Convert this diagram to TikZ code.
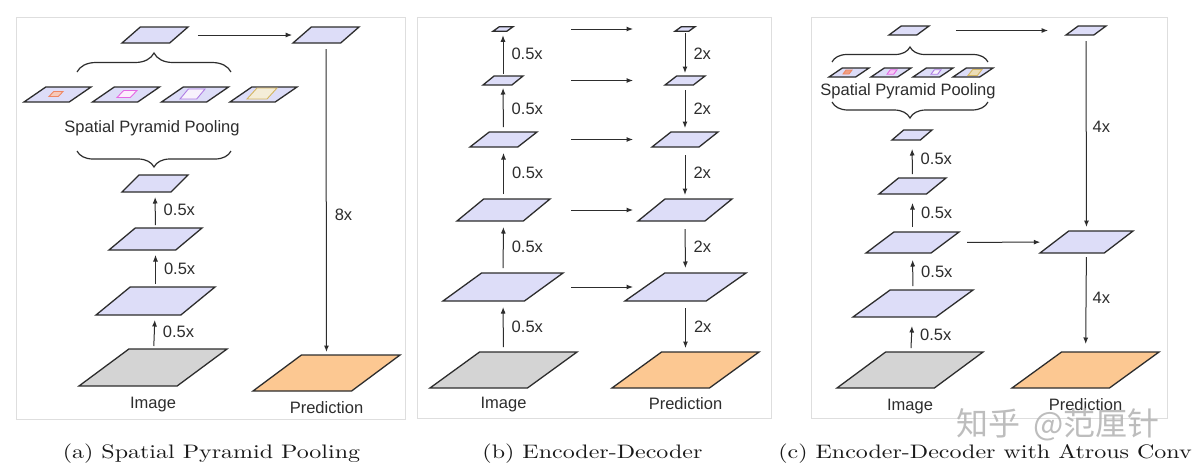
\documentclass[tikz,border=0pt]{standalone}
\usepackage{fontspec}
\setmainfont{Liberation Sans}
\newfontfamily\cjkfont{Noto Sans CJK SC}
\newfontfamily\capfont[FakeStretch=1.23]{lmroman10-regular.otf}
\usetikzlibrary{shapes.geometric,arrows.meta,positioning,decorations.pathreplacing}

\definecolor{planefill}{RGB}{221,221,248}
\definecolor{imgfill}{RGB}{212,212,212}
\definecolor{predfill}{RGB}{252,200,146}
\definecolor{linegray}{RGB}{45,45,45}
\definecolor{framegray}{RGB}{222,222,222}
\definecolor{binorange}{RGB}{238,135,100}
\definecolor{binmagenta}{RGB}{228,105,228}
\definecolor{binviolet}{RGB}{175,125,228}
\definecolor{bingold}{RGB}{212,182,98}

\tikzset{
  plane/.style n args={4}{trapezium, draw=linegray, line width=1.3pt, fill=planefill,
    inner sep=0.2pt, outer sep=0pt, trapezium stretches=true,
    minimum width=#1, minimum height=#2,
    trapezium left angle=#3, trapezium right angle=#4},
  bin/.style={line width=0.9pt}
}

\begin{document}
\begin{tikzpicture}[x=1pt, y=-1pt,
    font=\fontsize{16.5}{19}\selectfont,
    arr/.style={-{Latex[length=6.5pt,width=5pt]}, line width=1pt, draw=linegray,
      shorten <=3pt, shorten >=5pt},
    ratio/.style={right=6pt, inner sep=2pt, text=linegray},
    lbl/.style={inner sep=2pt, text=linegray},
    panelframe/.style={draw=framegray, line width=0.8pt},
    curly/.style={decorate, decoration={brace, amplitude=#1}, draw=linegray, line width=1.2pt},
    captext/.style={font=\fontsize{19.5}{22}\selectfont\capfont, text=black!90},
    wmtext/.style={font=\fontsize{32}{36}\selectfont\cjkfont, text=black!30, opacity=0.85}]
\useasboundingbox (0,0) rectangle (1200,475);
\fill[white] (0,0) rectangle (1200,475);

% (a) spatial pyramid pooling
\draw[panelframe] (16,17) rectangle (405,419);
\node[plane={148}{37}{44}{136}, fill=imgfill] (imga) at (153,367.5) {};
\node[plane={119}{28}{56}{124}] (a1) at (155.5,301) {};
\node[plane={93}{22}{57}{123}] (a2) at (155.5,239) {};
\node[plane={66}{17}{62}{118}] (a3) at (155,183.5) {};
\draw[curly=16pt] (231,151) -- (77,151);
\node[lbl] (sppa) at (152,128) {Spatial Pyramid Pooling};
\node[plane={67}{15}{47}{133}] (spa1) at (57.5,94.5) {};
\node[plane={67}{15}{47}{133}] (spa2) at (126,94.5) {};
\node[plane={67}{15}{47}{133}] (spa3) at (195,94.5) {};
\node[plane={67}{15}{47}{133}] (spa4) at (263.5,94.5) {};
\node[plane={14}{5}{45}{135}, bin, draw=binorange, fill=binorange!45] (bina1) at (56,94) {};
\node[plane={20}{7}{45}{135}, bin, draw=binmagenta, fill=binmagenta!12] (bina2) at (127,94) {};
\node[plane={25}{10}{45}{135}, bin, draw=binviolet, fill=white!90!binviolet] (bina3) at (192.5,94) {};
\node[plane={30}{11}{45}{135}, bin, draw=bingold, fill=bingold!25] (bina4) at (262,93.5) {};
\draw[curly=19pt] (77,72) -- (231,72);
\node[plane={66}{16}{58}{122}] (poola) at (155,35) {};
\node[plane={66}{16}{58}{122}] (topa) at (326,35) {};
\node[plane={147}{36}{46}{134}, fill=predfill] (preda) at (326.5,373) {};
\draw[arr] (imga) -- node[ratio] {0.5x} (a1);
\draw[arr] (a1) -- node[ratio] {0.5x} (a2);
\draw[arr] (a2) -- node[ratio] {0.5x} (a3);
\draw[arr, shorten <=19pt, shorten >=10pt] (poola) -- (topa);
\draw[arr, shorten <=6pt, shorten >=3pt] (topa) -- node[ratio, pos=0.55] {8x} (preda);
\node[lbl, below=9pt of imga] (imgtxta) {Image};
\node[lbl, below=8pt of preda] (predtxta) {Prediction};

% (b) encoder-decoder
\draw[panelframe] (417,17) rectangle (771,418);
\node[plane={147}{36}{44}{136}, fill=imgfill] (imgb) at (503.5,370) {};
\node[plane={120}{28}{48}{132}] (e1) at (503,287) {};
\node[plane={93}{22}{56}{124}] (e2) at (503.5,210) {};
\node[plane={67}{15}{56}{124}] (e3) at (503.5,139.5) {};
\node[plane={40}{9}{58}{122}] (e4) at (503,80.5) {};
\node[plane={20}{4.5}{50}{130}] (e5) at (503,29) {};
\node[plane={147}{36}{44}{136}, fill=predfill] (predb) at (685.5,370) {};
\node[plane={121}{28}{46}{134}] (d1) at (685.5,287) {};
\node[plane={94}{22}{56}{124}] (d2) at (685,210) {};
\node[plane={66}{15}{56}{124}] (d3) at (685,139.5) {};
\node[plane={40}{9}{55}{125}] (d4) at (685,80.5) {};
\node[plane={20}{4.5}{50}{130}] (d5) at (685,29) {};
\draw[arr, shorten <=5pt, shorten >=6pt] (imgb) -- node[ratio] {0.5x} (e1);
\draw[arr, shorten <=5pt, shorten >=6pt] (e1) -- node[ratio] {0.5x} (e2);
\draw[arr, shorten <=5pt, shorten >=6pt] (e2) -- node[ratio] {0.5x} (e3);
\draw[arr, shorten <=5pt, shorten >=3pt] (e3) -- node[ratio] {0.5x} (e4);
\draw[arr, shorten <=2pt, shorten >=4pt] (e4) -- node[ratio] {0.5x} (e5);
\draw[arr, shorten <=2pt, shorten >=3pt] (d5) -- node[ratio] {2x} (d4);
\draw[arr, shorten <=5pt, shorten >=4pt] (d4) -- node[ratio] {2x} (d3);
\draw[arr, shorten <=8pt, shorten >=4pt] (d3) -- node[ratio] {2x} (d2);
\draw[arr, shorten <=8pt, shorten >=5pt] (d2) -- node[ratio] {2x} (d1);
\draw[arr, shorten <=7pt, shorten >=4pt] (d1) -- node[ratio] {2x} (predb);
\coordinate (skipl) at (571,0);
\coordinate (skipr) at (633,0);
\draw[arr, shorten <=0pt, shorten >=0pt] (e5 -| skipl) -- (d5 -| skipr);
\draw[arr, shorten <=0pt, shorten >=0pt] (e4 -| skipl) -- (d4 -| skipr);
\draw[arr, shorten <=0pt, shorten >=0pt] (e3 -| skipl) -- (d3 -| skipr);
\draw[arr, shorten <=0pt, shorten >=0pt] (e2 -| skipl) -- (d2 -| skipr);
\draw[arr, shorten <=0pt, shorten >=0pt] (e1 -| skipl) -- (d1 -| skipr);
\node[lbl, below=7pt of imgb] (imgtxtb) {Image};
\node[lbl, below=7pt of predb] (predtxtb) {Prediction};

% (c) encoder-decoder with atrous conv
\draw[panelframe] (811,17) rectangle (1167,418);
\node[plane={146}{36}{45}{135}, fill=imgfill] (imgc) at (910,370) {};
\node[plane={120}{27}{51}{129}] (c1) at (913,303.5) {};
\node[plane={93}{21}{53}{127}] (c2) at (912.5,242.5) {};
\node[plane={67}{16}{55}{125}] (c3) at (912.5,186) {};
\node[plane={40}{10}{55}{125}] (c4) at (912,135) {};
\draw[curly=16pt] (988,102) -- (832,102);
\node[lbl] (sppc) at (908,91) {Spatial Pyramid Pooling};
\node[plane={40}{9}{45}{135}] (spc1) at (849,72.5) {};
\node[plane={40}{9}{45}{135}] (spc2) at (891,72.5) {};
\node[plane={40}{9}{45}{135}] (spc3) at (933,72.5) {};
\node[plane={40}{9}{45}{135}] (spc4) at (973,72.5) {};
\node[plane={9}{4}{45}{135}, bin, draw=binorange, fill=binorange!80] (binc1) at (847.5,72) {};
\node[plane={10}{4.5}{45}{135}, bin, draw=binmagenta, fill=binmagenta!35] (binc2) at (892,72) {};
\node[plane={10}{4.5}{45}{135}, bin, draw=binviolet, fill=white!90!binviolet] (binc3) at (936,72) {};
\node[plane={14}{6}{45}{135}, bin, draw=bingold, fill=bingold!45] (binc4) at (975,72.5) {};
\draw[curly=15pt] (832,62) -- (988,62);
\node[plane={40}{9}{52}{128}] (poolc) at (909,30.5) {};
\node[plane={40}{9}{52}{128}] (topc) at (1086,30.5) {};
\node[plane={93}{22}{51}{129}] (midc) at (1086.5,242) {};
\node[plane={147}{36}{44}{136}, fill=predfill] (predc) at (1085.5,370) {};
\draw[arr, shorten <=4pt, shorten >=9pt] (imgc) -- node[ratio] {0.5x} (c1);
\draw[arr, shorten <=4pt, shorten >=7pt] (c1) -- node[ratio] {0.5x} (c2);
\draw[arr, shorten <=5pt, shorten >=9pt] (c2) -- node[ratio] {0.5x} (c3);
\draw[arr, shorten <=4pt, shorten >=9pt] (c3) -- node[ratio] {0.5x} (c4);
\draw[arr, shorten <=33pt, shorten >=24pt] (poolc) -- (topc);
\draw[arr, shorten <=22pt, shorten >=14pt] (c2) -- (midc);
\draw[arr, shorten <=6pt, shorten >=4pt] (topc) -- node[ratio, right=4pt, pos=0.47] {4x} (midc);
\draw[arr, shorten <=4pt, shorten >=8pt] (midc) -- node[ratio, right=4pt, pos=0.45] {4x} (predc);
\node[lbl, below=9pt of imgc] (imgtxtc) {Image};
\node[lbl, below=8pt of predc] (predtxtc) {Prediction};

% captions
\node[captext] (capa) at (211.5,454) {(a) Spatial Pyramid Pooling};
\node[captext] (capb) at (592.5,454) {(b) Encoder-Decoder};
\node[captext] (capc) at (985,454) {(c) Encoder-Decoder with Atrous Conv};
\node[wmtext] (wm) at (1058,425) {知乎\hspace{0.4em}@范厘针};
\end{tikzpicture}
\end{document}
